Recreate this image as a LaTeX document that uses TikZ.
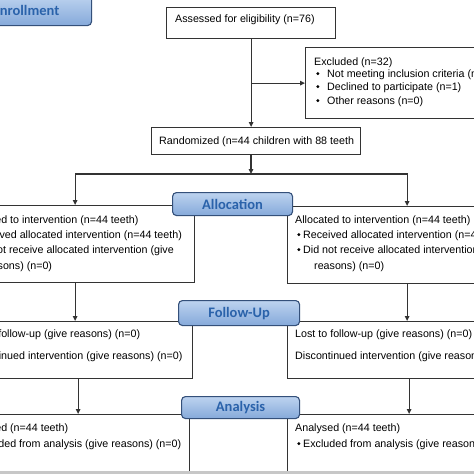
\documentclass[tikz,border=0pt]{standalone}
\usepackage{fontspec}
\setmainfont{Liberation Sans}
\newfontfamily\lblfont{Carlito}
\usetikzlibrary{arrows.meta}
\definecolor{boxline}{HTML}{333333}
\definecolor{lblline}{HTML}{34507A}
\definecolor{lbltop}{HTML}{BDD3EF}
\definecolor{lblbot}{HTML}{85A9DA}
\definecolor{lbltext}{HTML}{2A62AA}
\newcommand\bul{\raisebox{0.32ex}{\rotatebox{45}{\rule{2.3pt}{2.3pt}}}}
\tikzset{
  box/.style={draw=boxline, line width=1.3pt, fill=white, rectangle, inner sep=0pt, anchor=north west},
  lbl/.style={draw=lblline, line width=1.1pt, rectangle, rounded corners=4pt, top color=lbltop, bottom color=lblbot,
    inner sep=0pt, anchor=north west, text=lbltext, font=\lblfont\bfseries\fontsize{14.5}{16}\selectfont},
  txt/.style={anchor=base west, inner sep=0pt, text=black, font=\fontsize{10.7}{12}\selectfont},
  arr/.style={draw=boxline, line width=1.3pt, -{Triangle[length=5pt,width=4.5pt]}},
  conn/.style={draw=boxline, line width=1.3pt}
}
\begin{document}
\begin{tikzpicture}[x=1pt,y=-1pt]
\useasboundingbox (0,0) rectangle (474,474);
\clip (0,0) rectangle (474,474);
\fill[white] (0,0) rectangle (474,474);

% boxes
\node[box, minimum width=169, minimum height=31] (assessed) at (166,7) {};
\node[box, minimum width=185, minimum height=71] (excluded) at (305,47) {};
\node[box, minimum width=209, minimum height=27] (randomized) at (151,127) {};
\node[box, minimum width=239, minimum height=77] (allocL) at (-45,205) {};
\node[box, minimum width=239, minimum height=77] (allocR) at (287,206) {};
\node[box, minimum width=237, minimum height=57] (followL) at (-45,321) {};
\node[box, minimum width=239, minimum height=57] (followR) at (287,321) {};
\node[box, minimum width=234, minimum height=90] (analL) at (-45,414) {};
\node[box, minimum width=239, minimum height=90] (analR) at (287,414) {};

% connectors
\coordinate (split) at (251,174);
\draw[arr] (assessed.south) -- (assessed.south |- randomized.north);
\draw[arr] (assessed.south |- excluded.west) -- (excluded.west);
\draw[arr] (split |- randomized.south) -- (split);
\draw[arr] (split) -| (allocL.north);
\draw[arr] (split) -| (allocR.north);
\draw[arr] (allocL.south) -- (allocL.south |- followL.north);
\draw[arr] (allocR.south) -- (followR.north);
\draw[arr] ([xshift=3pt]allocL.south |- followL.south) -- ([xshift=3pt]allocL.south |- analL.north);
\draw[arr] ([xshift=2pt]followR.south) -- ([xshift=2pt]followR.south |- analR.north);

% stage labels
\node[lbl, minimum width=131, minimum height=30] (enrolllbl) at (-40,-5) {Enrollment};
\node[lbl, minimum width=120, minimum height=23] (alloclbl) at (172,192) {Allocation};
\node[lbl, minimum width=121, minimum height=25] (followlbl) at (178,300) {Follow-Up};
\node[lbl, minimum width=118, minimum height=22] (anallbl) at (181,396) {Analysis};

% texts
\node[txt] (tAss) at (175,22) {Assessed for eligibility (n=76)};
\node[txt] (tEx0) at (314,65) {Excluded (n=32)};
\node[txt] (tEx1b) at (316,77) {\bul};
\node[txt] (tEx1) at (327,77) {Not meeting inclusion criteria (n=31)};
\node[txt] (tEx2b) at (316,90) {\bul};
\node[txt] (tEx2) at (327,90) {Declined to participate (n=1)};
\node[txt] (tEx3b) at (316,104) {\bul};
\node[txt] (tEx3) at (327,104) {Other reasons (n=0)};
\node[txt] (tRand) at (159,144) {Randomized (n=44 children with 88 teeth};

\node[txt] (tAL0) at (-37,223) {Allocated to intervention (n=44 teeth)};
\node[txt] (tAL1b) at (-35,238) {\bul};
\node[txt] (tAL1) at (-28,238) {Received allocated intervention (n=44 teeth)};
\node[txt] (tAL2b) at (-35,253) {\bul};
\node[txt] (tAL2) at (-28,253) {Did not receive allocated intervention (give};
\node[txt] (tAL3) at (-18,269) {reasons) (n=0)};

\node[txt] (tAR0) at (295,223) {Allocated to intervention (n=44 teeth)};
\node[txt] (tAR1b) at (297,238) {\bul};
\node[txt] (tAR1) at (303,238) {Received allocated intervention (n=44 teeth)};
\node[txt] (tAR2b) at (297,253) {\bul};
\node[txt] (tAR2) at (303,253) {Did not receive allocated intervention (give};
\node[txt] (tAR3) at (314,269) {reasons) (n=0)};

\node[txt] (tFL0) at (-37,337) {Lost to follow-up (give reasons) (n=0)};
\node[txt] (tFL1) at (-37,359) {Discontinued intervention (give reasons) (n=0)};
\node[txt] (tFR0) at (295,337) {Lost to follow-up (give reasons) (n=0)};
\node[txt] (tFR1) at (295,359) {Discontinued intervention (give reasons) (n=0)};

\node[txt] (tNL0) at (-37,431) {Analysed (n=44 teeth)};
\node[txt] (tNL1b) at (-35,447) {\bul};
\node[txt] (tNL1) at (-28,447) {Excluded from analysis (give reasons) (n=0)};
\node[txt] (tNR0) at (295,431) {Analysed (n=44 teeth)};
\node[txt] (tNR1b) at (297,447) {\bul};
\node[txt] (tNR1) at (303,447) {Excluded from analysis (give reasons) (n=0)};

% bottom strip
\fill[black!22] (0,471) rectangle (474,474);
\end{tikzpicture}
\end{document}
